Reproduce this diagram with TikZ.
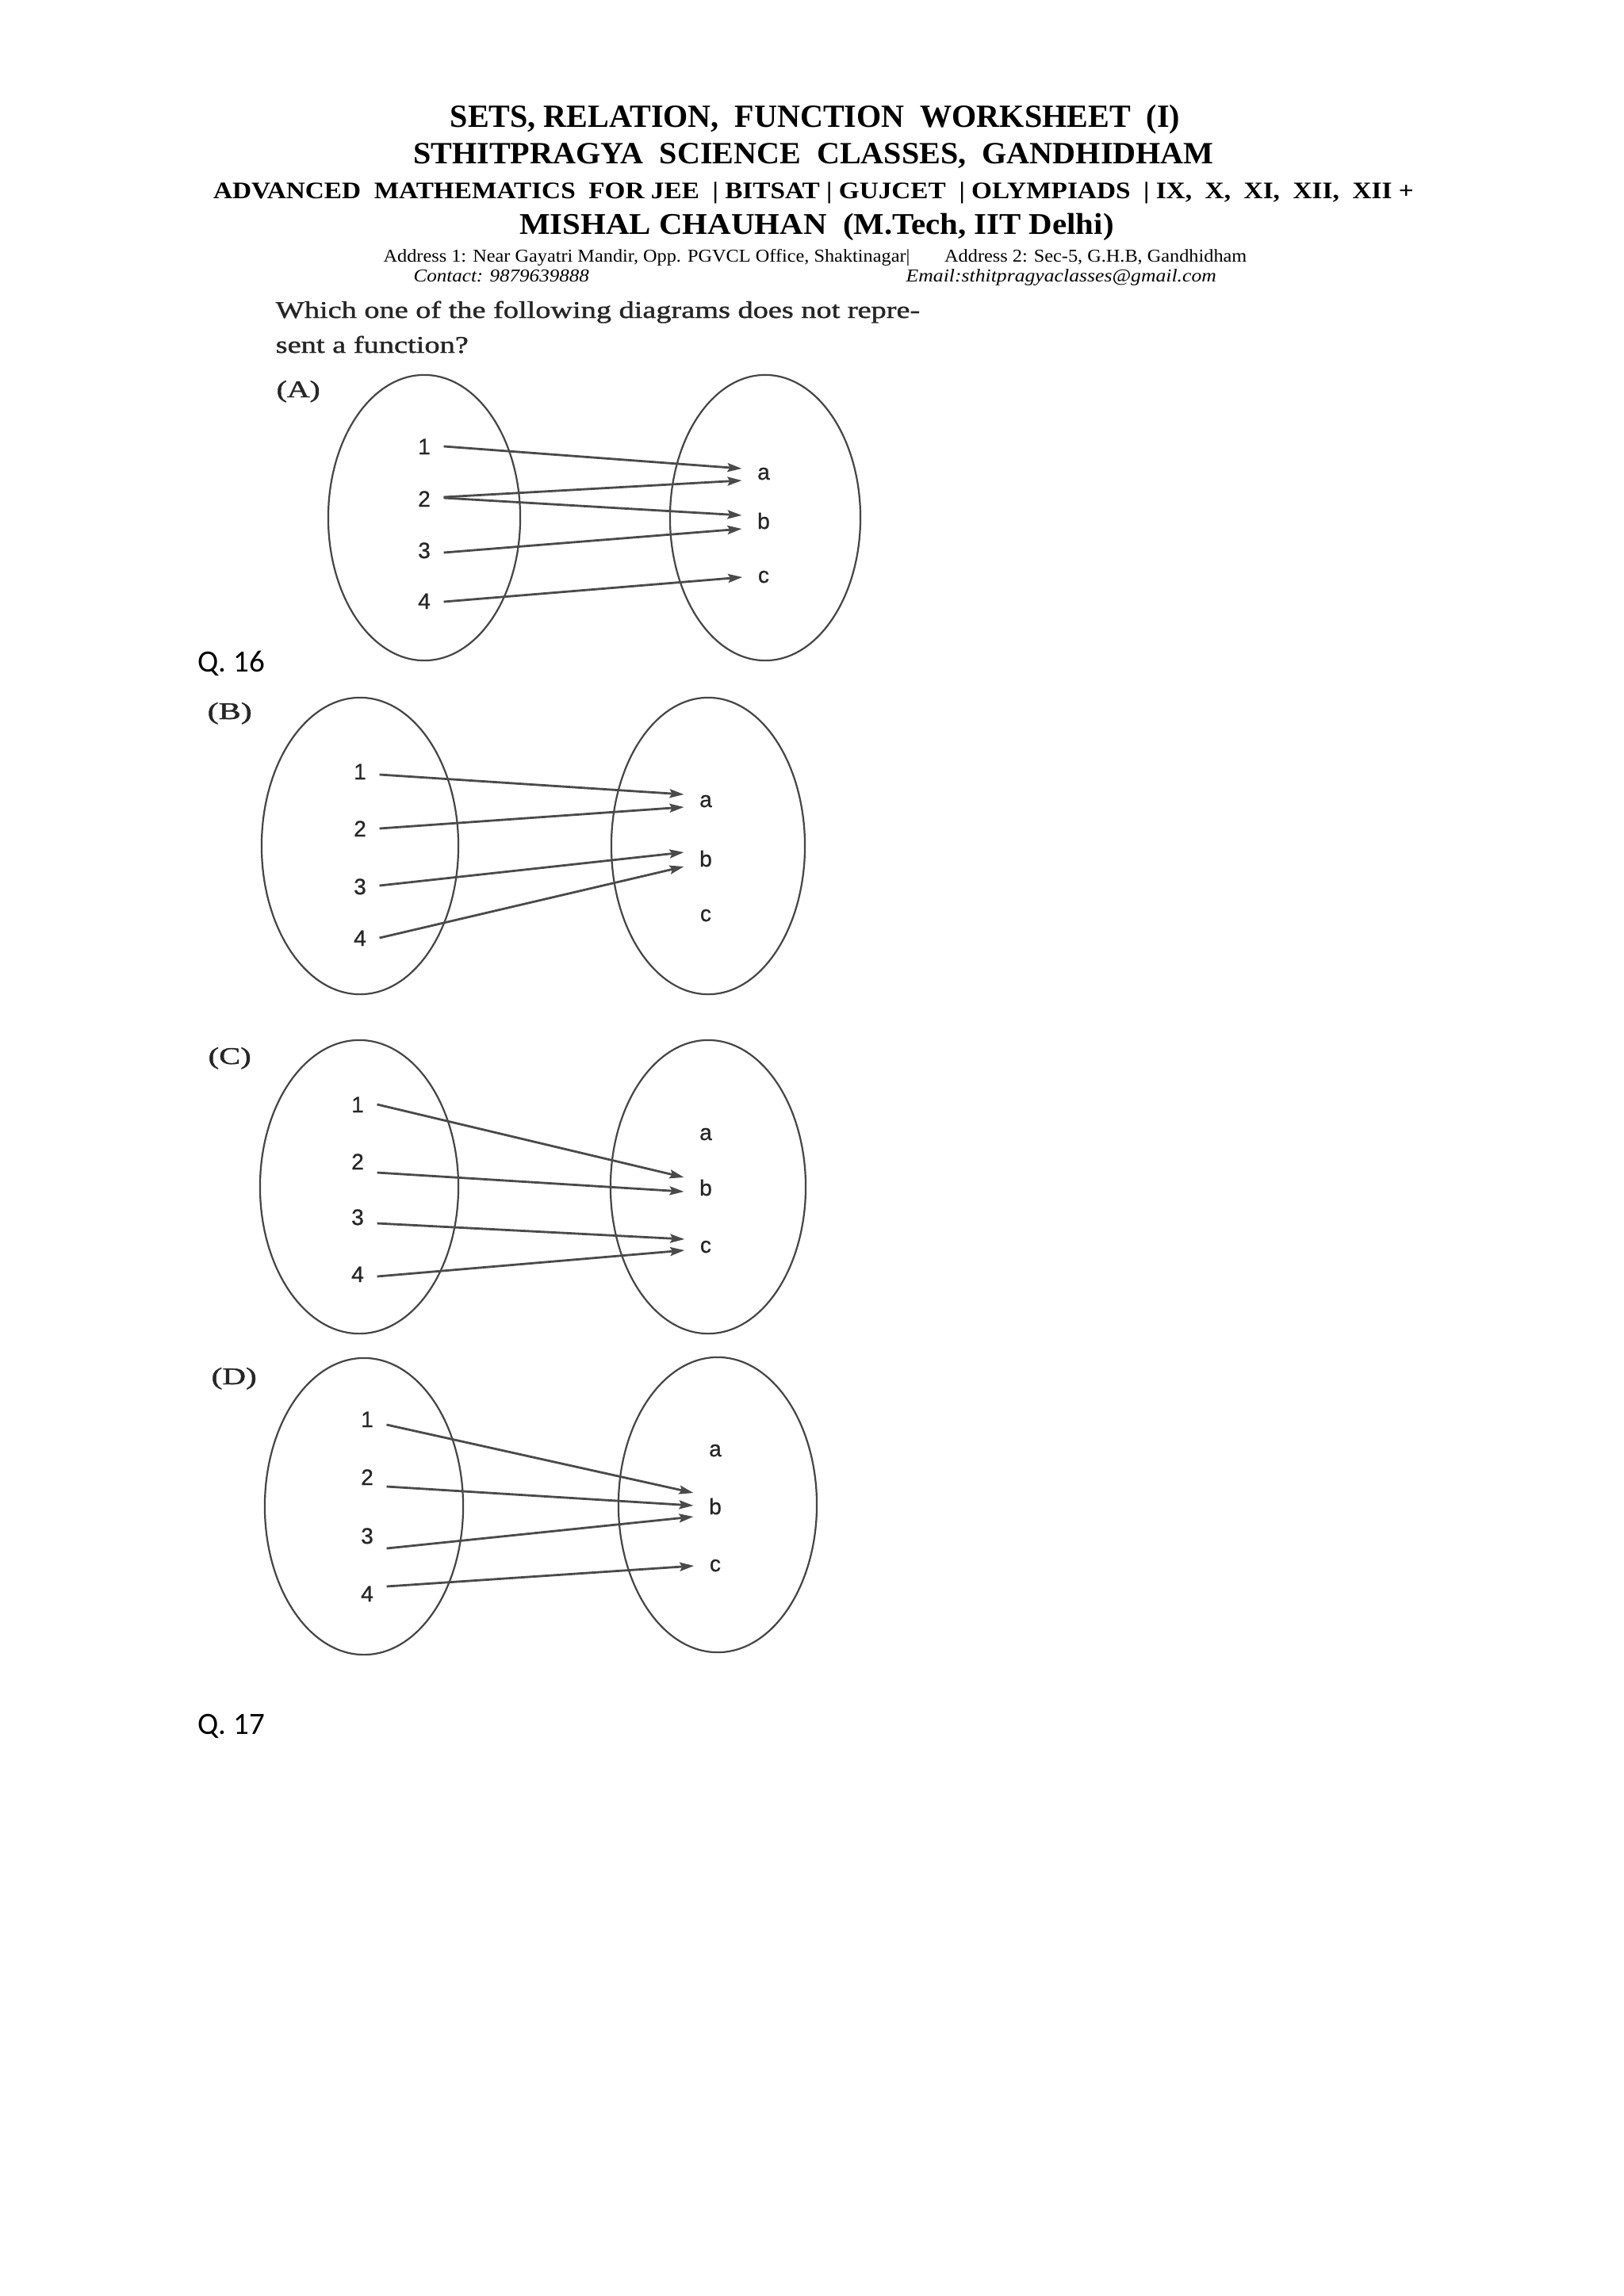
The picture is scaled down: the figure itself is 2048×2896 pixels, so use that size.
\documentclass[tikz,border=0pt]{standalone}
\usepackage{fontspec}
\usepackage{graphicx}
\setmainfont{Liberation Serif}
\newfontfamily\labfont[FakeBold=0.8]{Liberation Sans}
\newfontfamily\scanfont[FakeBold=1.2]{Liberation Serif}
\newfontfamily\qfont{Carlito}
\usetikzlibrary{arrows.meta}
\definecolor{labc}{HTML}{262626}
\definecolor{linec}{HTML}{4A4A4A}
\definecolor{ellc}{HTML}{454545}
\definecolor{bodyc}{HTML}{262626}
\newcommand\fs[1]{\fontsize{#1}{#1}\selectfont}
\newcommand\fitw[2]{\resizebox{#1}{\height}{#2}}
\begin{document}
\begin{tikzpicture}[x=0.01cm,y=-0.01cm,
  hdr/.style={anchor=base,inner sep=0pt,text=black},
  hdrw/.style={anchor=base west,inner sep=0pt,text=black},
  body/.style={anchor=base west,inner sep=0pt,text=bodyc,font=\scanfont\fs{8.6pt}},
  qlab/.style={anchor=base west,inner sep=0pt,text=black,font=\qfont\fs{11.1pt}},
  dom/.style={anchor=base,inner ysep=0pt,inner xsep=0.16cm,text=labc,font=\labfont\fs{8.0pt},text height=0.20cm,text depth=0cm},
  cod/.style={anchor=base,inner ysep=0pt,inner xsep=0.19cm,text=labc,font=\labfont\fs{8.0pt},text height=0.20cm,text depth=0cm},
  ell/.style={draw=ellc,line width=0.022cm},
  arr/.style={draw=linec,line width=0.028cm,-{Stealth[length=0.18cm,width=0.11cm,inset=0.03cm]}}
]
\useasboundingbox[fill=white] (0,0) rectangle (2048,2896);

% ---------- header ----------
\node[hdr] (t1) at (1028,160) {\fitw{9.20cm}{\bfseries\fs{11.6pt}SETS, RELATION,~ FUNCTION~ WORKSHEET~ (I)}};
\node[hdr] (t2) at (1026,206) {\fitw{10.09cm}{\bfseries\fs{11.1pt}STHITPRAGYA~ SCIENCE~ CLASSES,~ GANDHIDHAM}};
\node[hdr] (t3) at (1026,250) {\fitw{15.13cm}{\bfseries\fs{8.5pt}ADVANCED~ MATHEMATICS~ FOR JEE~ | BITSAT | GUJCET~ | OLYMPIADS~ | IX,~ X,~ XI,~ XII,~ XII +}};
\node[hdr] (t4) at (1030,295) {\fitw{7.49cm}{\bfseries\fs{10.8pt}MISHAL CHAUHAN~ (M.Tech, IIT Delhi)}};
\node[hdr] (t5) at (1028,330) {\fitw{10.88cm}{\fs{6.5pt}Address 1: Near Gayatri Mandir, Opp. PGVCL Office, Shaktinagar|\hspace{1.8em}Address 2: Sec-5, G.H.B, Gandhidham}};
\node[hdrw] (t6) at (521,355) {\fitw{2.21cm}{\itshape\fs{6.5pt}Contact: 9879639888}};
\node[hdrw] (t7) at (1142,355) {\fitw{3.91cm}{\itshape\fs{6.5pt}Email:sthitpragyaclasses@gmail.com}};

% ---------- question ----------
\node[body] (w1) at (347,401) {\fitw{8.12cm}{Which one of the following diagrams does not repre-}};
\node[body] (w2) at (347,445) {\fitw{2.43cm}{sent a function?}};

\node[qlab] (q16) at (249,847) {Q. 16};
\node[qlab] (q17) at (249,2187) {Q. 17};

% ---------- (A) ----------
\node[body] (optA) at (348,501) {\fitw{0.55cm}{(A)}};
\draw[ell] (535,653) ellipse [x radius=1.21cm, y radius=1.80cm];
\draw[ell] (965,653) ellipse [x radius=1.20cm, y radius=1.80cm];
\node[dom] (A1) at (535,573) {1};
\node[dom] (A2) at (535,639) {2};
\node[dom] (A3) at (535,704) {3};
\node[dom] (A4) at (535,768) {4};
\node[cod] (Aa) at (963,605) {a};
\node[cod] (Ab) at (963,667) {b};
\node[cod] (Ac) at (963,735) {c};
\draw[arr] (A1.east) -- ([yshift=0.04cm]Aa.west);
\draw[arr] ([yshift=0.02cm]A2.east) -- ([yshift=-0.11cm]Aa.west);
\draw[arr] ([yshift=0.01cm]A2.east) -- ([yshift=0.07cm]Ab.west);
\draw[arr] ([yshift=-0.03cm]A3.east) -- ([yshift=-0.10cm]Ab.west);
\draw[arr] ([yshift=-0.01cm]A4.east) -- ([yshift=-0.03cm]Ac.west);

% ---------- (B) ----------
\node[body] (optB) at (261,907) {\fitw{0.56cm}{(B)}};
\draw[ell] (454,1067) ellipse [x radius=1.24cm, y radius=1.87cm];
\draw[ell] (893,1067) ellipse [x radius=1.22cm, y radius=1.87cm];
\node[dom] (B1) at (454,983) {1};
\node[dom] (B2) at (454,1055) {2};
\node[dom] (B3) at (454,1128) {3};
\node[dom] (B4) at (454,1193) {4};
\node[cod] (Ba) at (890,1018) {a};
\node[cod] (Bb) at (890,1093) {b};
\node[cod] (Bc) at (890,1162) {c};
\draw[arr] ([yshift=-0.04cm]B1.east) -- ([yshift=0.06cm]Ba.west);
\draw[arr] (B2.east) -- ([yshift=-0.10cm]Ba.west);
\draw[arr] ([yshift=0.01cm]B3.east) -- ([yshift=0.08cm]Bb.west);
\draw[arr] (B4.east) -- ([yshift=-0.10cm]Bb.west);

% ---------- (C) ----------
\node[body] (optC) at (262,1342) {\fitw{0.54cm}{(C)}};
\draw[ell] (453,1497) ellipse [x radius=1.25cm, y radius=1.85cm];
\draw[ell] (893,1497) ellipse [x radius=1.23cm, y radius=1.85cm];
\node[dom] (C1) at (451,1403) {1};
\node[dom] (C2) at (451,1475) {2};
\node[dom] (C3) at (451,1545) {3};
\node[dom] (C4) at (451,1617) {4};
\node[cod] (Ca) at (890,1438) {a};
\node[cod] (Cb) at (890,1508) {b};
\node[cod] (Cc) at (890,1580) {c};
\draw[arr] (C1.east) -- ([yshift=0.13cm]Cb.west);
\draw[arr] ([yshift=-0.14cm]C2.east) -- ([yshift=-0.05cm]Cb.west);
\draw[arr] ([yshift=-0.08cm]C3.east) -- ([yshift=0.07cm]Cc.west);
\draw[arr] ([yshift=-0.03cm]C4.east) -- ([yshift=-0.07cm]Cc.west);

% ---------- (D) ----------
\node[body] (optD) at (266,1746) {\fitw{0.57cm}{(D)}};
\draw[ell] (459,1900) ellipse [x radius=1.25cm, y radius=1.87cm];
\draw[ell] (905,1898) ellipse [x radius=1.25cm, y radius=1.86cm];
\node[dom] (D1) at (463,1800) {1};
\node[dom] (D2) at (463,1873) {2};
\node[dom] (D3) at (463,1947) {3};
\node[dom] (D4) at (463,2020) {4};
\node[cod] (Da) at (902,1837) {a};
\node[cod] (Db) at (902,1910) {b};
\node[cod] (Dc) at (902,1982) {c};
\draw[arr] ([yshift=-0.07cm]D1.east) -- ([yshift=0.17cm]Db.west);
\draw[arr] ([yshift=-0.12cm]D2.east) -- ([yshift=0.01cm]Db.west);
\draw[arr] ([yshift=-0.16cm]D3.east) -- ([yshift=-0.13cm]Db.west);
\draw[arr] ([yshift=0.09cm]D4.east) -- ([yshift=-0.03cm]Dc.west);
\end{tikzpicture}
\end{document}
